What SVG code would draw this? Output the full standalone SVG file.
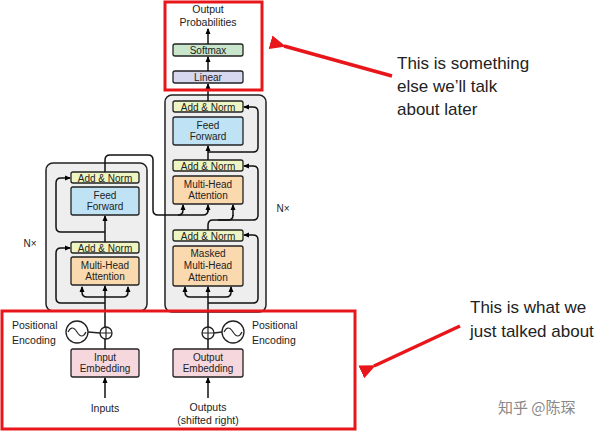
<svg xmlns="http://www.w3.org/2000/svg" width="616" height="432" viewBox="0 0 616 432">
<defs>
<marker id="ah" markerWidth="6" markerHeight="6" refX="5" refY="3" orient="auto" markerUnits="userSpaceOnUse"><path d="M0,0.5 L6,3 L0,5.5 z" fill="#000"/></marker>
<marker id="rh" markerWidth="16" markerHeight="14" refX="2" refY="7" orient="auto" markerUnits="userSpaceOnUse"><path d="M16,0 L0,7 L16,14 z" fill="#e8161b"/></marker>
<style>
text{font-family:"Liberation Sans",Arial,sans-serif;fill:#222}
.s{font-size:10px;text-anchor:middle}
.b{stroke:#222;stroke-width:1.3}
.an{fill:#eef5c2}.ff{fill:#bfe3f4}.mh{fill:#fbd9ae}.em{fill:#f5d7dd}
.c{fill:none;stroke:#111;stroke-width:1.5}
.a{fill:none;stroke:#111;stroke-width:1.5;marker-end:url(#ah)}
.red{fill:none;stroke:#e8161b;stroke-width:3}
.big{font-size:17px}
</style>
</defs>
<rect x="0" y="0" width="616" height="432" fill="#fff"/>
<g id="encoder">
<rect x="46" y="163" width="101" height="148" rx="7" fill="#eeeeee" stroke="#222" stroke-width="1.5"/>
<rect class="b an" x="71" y="172" width="68" height="11" rx="2"/><text class="s" x="105" y="181.5">Add &amp; Norm</text>
<rect class="b ff" x="71" y="187" width="68" height="28" rx="2"/><text class="s" x="105" y="199">Feed</text><text class="s" x="105" y="210">Forward</text>
<rect class="b an" x="71" y="242" width="68" height="11" rx="2"/><text class="s" x="105" y="251.5">Add &amp; Norm</text>
<rect class="b mh" x="71" y="257" width="68" height="28" rx="2"/><text class="s" x="105" y="269">Multi-Head</text><text class="s" x="105" y="280">Attention</text>
<text x="30" y="247" class="s">N×</text>
</g>
<g id="decoder">
<rect x="165" y="95" width="101" height="217" rx="7" fill="#eeeeee" stroke="#222" stroke-width="1.5"/>
<rect class="b an" x="173" y="101" width="70" height="11" rx="2"/><text class="s" x="208" y="110.5">Add &amp; Norm</text>
<rect class="b ff" x="173" y="117" width="70" height="28" rx="2"/><text class="s" x="208" y="129">Feed</text><text class="s" x="208" y="140">Forward</text>
<rect class="b an" x="173" y="160" width="70" height="11" rx="2"/><text class="s" x="208" y="169.5">Add &amp; Norm</text>
<rect class="b mh" x="173" y="176" width="70" height="28" rx="2"/><text class="s" x="208" y="188">Multi-Head</text><text class="s" x="208" y="199">Attention</text>
<rect class="b an" x="173" y="230" width="70" height="11" rx="2"/><text class="s" x="208" y="239.5">Add &amp; Norm</text>
<rect class="b mh" x="173" y="246" width="70" height="40" rx="2"/><text class="s" x="208" y="257">Masked</text><text class="s" x="208" y="269">Multi-Head</text><text class="s" x="208" y="281">Attention</text>
<text x="283" y="212" class="s">N×</text>
</g>
<g id="output">
<text class="s" x="208" y="13" style="font-size:10.5px">Output</text>
<text class="s" x="208" y="26" style="font-size:10.5px">Probabilities</text>
<rect class="b" fill="#c9e6cc" x="173" y="44" width="70" height="12" rx="2"/><text class="s" x="208" y="53.5">Softmax</text>
<rect class="b" fill="#d6d8ef" x="173" y="71" width="70" height="12" rx="2"/><text class="s" x="208" y="80.5">Linear</text>
</g>
<g id="inputs">
<circle cx="77" cy="332" r="11" fill="#fff" stroke="#222" stroke-width="1.3"/>
<path d="M68,332 Q72,324 77,332 T86,332" fill="none" stroke="#222" stroke-width="1.2"/>
<circle cx="106" cy="333" r="6" fill="#fff" stroke="#222" stroke-width="1.3"/>
<path d="M100,333 H112 M106,327 V339" stroke="#222" stroke-width="1.2"/>
<line x1="88" y1="332" x2="100" y2="333" stroke="#222" stroke-width="1.3"/>
<text x="12" y="329" style="font-size:10.5px">Positional</text><text x="12" y="344" style="font-size:10.5px">Encoding</text>
<rect class="b em" x="71" y="349" width="68" height="28" rx="2"/><text class="s" x="105" y="361">Input</text><text class="s" x="105" y="372">Embedding</text>
<text class="s" x="105" y="412" style="font-size:10.5px">Inputs</text>
<circle cx="233" cy="332" r="11" fill="#fff" stroke="#222" stroke-width="1.3"/>
<path d="M224,332 Q228,324 233,332 T242,332" fill="none" stroke="#222" stroke-width="1.2"/>
<circle cx="208" cy="333" r="6" fill="#fff" stroke="#222" stroke-width="1.3"/>
<path d="M202,333 H214 M208,327 V339" stroke="#222" stroke-width="1.2"/>
<line x1="214" y1="333" x2="222" y2="332" stroke="#222" stroke-width="1.3"/>
<text x="252" y="329" style="font-size:10.5px">Positional</text><text x="252" y="344" style="font-size:10.5px">Encoding</text>
<rect class="b em" x="173" y="349" width="70" height="28" rx="2"/><text class="s" x="208" y="361">Output</text><text class="s" x="208" y="372">Embedding</text>
<text class="s" x="208" y="411" style="font-size:10.5px">Outputs</text><text class="s" x="208" y="424" style="font-size:10.5px">(shifted right)</text>
</g>
<g id="connectors">
<path class="a" d="M105,398 V378"/>
<path class="c" d="M105,349 V339"/>
<path class="a" d="M105,327 V286"/>
<path class="a" d="M105,297 H87 Q82,297 82,292 V287"/>
<path class="a" d="M105,297 H123 Q128,297 128,292 V287"/>
<path class="a" d="M105,303 H61 Q56,303 56,298 V253 Q56,248 61,248 H70"/>
<path class="a" d="M105,242 V216"/>
<path class="a" d="M105,232 H61 Q56,232 56,227 V183 Q56,178 61,178 H70"/>
<path class="c" d="M105,172 V160 Q105,155 110,155 H148 Q153,155 153,160 V210 Q153,215 158,215 H203 Q208,215 208,210"/>
<path class="a" d="M178,215 Q183,215 183,210 V205"/>
<path class="a" d="M208,212 V205"/>
<path class="a" d="M208,398 V378"/>
<path class="c" d="M208,349 V339"/>
<path class="a" d="M208,327 V287"/>
<path class="a" d="M208,297 H190 Q185,297 185,292 V287"/>
<path class="a" d="M208,297 H226 Q231,297 231,292 V287"/>
<path class="a" d="M208,303 H253 Q258,303 258,298 V240 Q258,235 253,235 H244"/>
<path class="c" d="M208,230 V225 Q208,220 213,220 H228 Q233,220 233,215"/>
<path class="a" d="M233,216 V205"/>
<path class="a" d="M218,220 H253 Q258,220 258,215 V171 Q258,166 253,166 H244"/>
<path class="a" d="M208,160 V146"/>
<path class="a" d="M208,152 H253 Q258,152 258,147 V112 Q258,107 253,107 H244"/>
<path class="a" d="M208,101 V84"/>
<path class="a" d="M208,71 V57"/>
<path class="a" d="M208,44 V29"/>
</g>
<g id="annotations">
<rect class="red" x="165" y="2" width="97" height="88"/>
<rect class="red" x="2" y="311" width="353" height="118"/>
<line x1="392" y1="76" x2="284" y2="46" stroke="#e8161b" stroke-width="3.5" marker-end="url(#rh)"/>
<line x1="460" y1="326" x2="374" y2="366" stroke="#e8161b" stroke-width="3.5" marker-end="url(#rh)"/>
<text class="big" x="397" y="69">This is something</text>
<text class="big" x="397" y="92">else we’ll talk</text>
<text class="big" x="397" y="115">about later</text>
<text class="big" x="470" y="313">This is what we</text>
<text class="big" x="470" y="337">just talked about</text>
<text x="498" y="413" style="font-size:15px;fill:#888;font-family:'Noto Sans CJK SC',sans-serif">知乎 @陈琛</text>
</g>
</svg>
